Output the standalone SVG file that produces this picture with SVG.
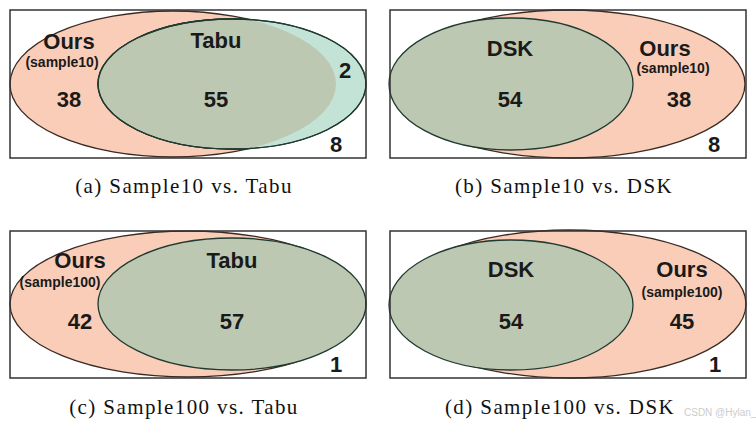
<svg xmlns="http://www.w3.org/2000/svg" width="756" height="427" viewBox="0 0 756 427">
<style>
.box{fill:none;stroke:#333;stroke-width:1.5}
.pink{fill:#f9cdb8;stroke:#3a2a22;stroke-width:1.3}
.teal{fill:#c3e3d6;stroke:#1f3a30;stroke-width:1.3}
.ov{fill:#bdc8b2;stroke:#1f3a30;stroke-width:1.3}
.lb{font-family:"Liberation Sans",Arial,sans-serif;font-weight:bold;font-size:22px;fill:#1a1a1a;text-anchor:middle}
.sm{font-family:"Liberation Sans",Arial,sans-serif;font-weight:bold;font-size:14px;fill:#1a1a1a;text-anchor:middle}
.cap{font-family:"Liberation Serif","Times New Roman",serif;font-size:21px;letter-spacing:1.4px;fill:#111;text-anchor:middle}
</style>
<defs>
<clipPath id="ca"><ellipse cx="173" cy="84" rx="163" ry="73"/></clipPath>
</defs>
<g id="panel-a">
<ellipse class="pink" cx="173" cy="84" rx="163" ry="73"/>
<ellipse class="teal" cx="232" cy="84" rx="134" ry="65"/>
<ellipse class="ov" cx="232" cy="84" rx="134" ry="65" clip-path="url(#ca)" stroke="none"/>
<ellipse fill="none" stroke="#1f3a30" stroke-width="1.3" cx="232" cy="84" rx="134" ry="65"/>
<rect class="box" x="10" y="10" width="356" height="148"/>
<text class="lb" x="69" y="49">Ours</text><text class="sm" x="62" y="67">(sample10)</text>
<text class="lb" x="69" y="107">38</text><text class="lb" x="216" y="48">Tabu</text>
<text class="lb" x="216" y="107">55</text><text class="lb" x="345" y="78">2</text><text class="lb" x="336" y="152">8</text>
<text class="cap" x="184" y="193">(a) Sample10 vs. Tabu</text>
</g>
<g id="panel-b">
<ellipse class="pink" cx="568" cy="84" rx="177" ry="74"/>
<ellipse class="ov" cx="511" cy="84" rx="122" ry="66"/>
<rect class="box" x="390" y="10" width="356" height="148"/>
<text class="lb" x="510" y="56">DSK</text><text class="lb" x="510" y="107">54</text>
<text class="lb" x="665" y="56">Ours</text><text class="sm" x="673" y="73">(sample10)</text>
<text class="lb" x="679" y="107">38</text><text class="lb" x="714" y="152">8</text>
<text class="cap" x="564" y="193">(b) Sample10 vs. DSK</text>
</g>
<g id="panel-c">
<ellipse class="pink" cx="188" cy="304" rx="178" ry="73"/>
<ellipse class="ov" cx="232" cy="304" rx="134" ry="66"/>
<rect class="box" x="10" y="231" width="356" height="147"/>
<text class="lb" x="80" y="268">Ours</text><text class="sm" x="60" y="287">(sample100)</text>
<text class="lb" x="80" y="329">42</text><text class="lb" x="232" y="268">Tabu</text>
<text class="lb" x="232" y="329">57</text><text class="lb" x="336" y="372">1</text>
<text class="cap" x="184" y="414">(c) Sample100 vs. Tabu</text>
</g>
<g id="panel-d">
<ellipse class="pink" cx="569" cy="304" rx="177" ry="74"/>
<ellipse class="ov" cx="511" cy="305" rx="122" ry="65"/>
<rect class="box" x="390" y="231" width="356" height="147"/>
<text class="lb" x="511" y="277">DSK</text><text class="lb" x="511" y="329">54</text>
<text class="lb" x="682" y="277">Ours</text><text class="sm" x="682" y="297">(sample100)</text>
<text class="lb" x="682" y="329">45</text><text class="lb" x="715" y="372">1</text>
<text class="cap" x="560" y="414">(d) Sample100 vs. DSK</text>
<text x="684" y="416" font-family="Liberation Sans,sans-serif" font-size="10" fill="#ccc">CSDN @Hylan_J</text>
</g>
<g id="connectors"/>
</svg>
